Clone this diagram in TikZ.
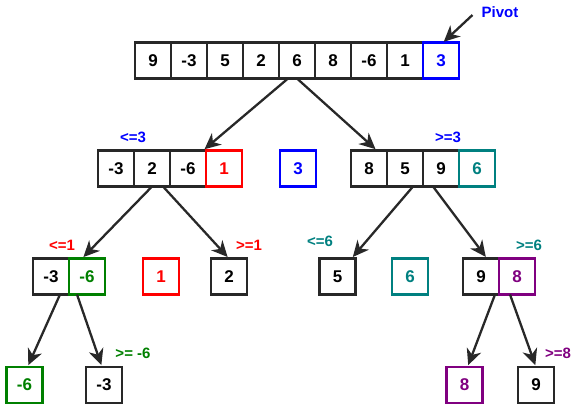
\documentclass[tikz,border=0pt]{standalone}
\usepackage{fontspec}
\setmainfont{Liberation Sans}
\usepackage{tikz}
\usetikzlibrary{arrows.meta, positioning}

\definecolor{qgreen}{RGB}{0,128,0}
\definecolor{qteal}{RGB}{0,128,128}
\definecolor{qpurple}{RGB}{128,0,128}
\definecolor{qgray}{RGB}{40,40,40}

\begin{document}
\begin{tikzpicture}[
  x=1pt, y=-1pt,
  cell/.style={rectangle, draw=qgray, line width=2.3pt, minimum size=36pt,
               inner sep=0pt, outer sep=0pt, fill=white,
               font=\fontsize{17}{19}\selectfont\bfseries},
  tag/.style={inner sep=0pt, font=\fontsize{15}{17}\selectfont\bfseries},
  arr/.style={-{Stealth[length=16pt, width=15pt, inset=5pt]}, qgray, line width=2.3pt,
              shorten >=2pt}
]
\useasboundingbox (0,0) rectangle (577,410);

% Input array, pivot is the last cell
\node[cell] (t1) at (153, 60.5) {9};
\node[cell] (t2) at (189, 60.5) {-3};
\node[cell] (t3) at (225, 60.5) {5};
\node[cell] (t4) at (261, 60.5) {2};
\node[cell] (t5) at (297, 60.5) {6};
\node[cell] (t6) at (333, 60.5) {8};
\node[cell] (t7) at (369, 60.5) {-6};
\node[cell] (t8) at (405, 60.5) {1};
\node[cell, draw=blue, text=blue] (t9) at (441, 60.5) {3};
\node[tag, text=blue] (pv) at (500, 12) {Pivot};

% First partition
\node[cell] (l1) at (116, 168.5) {-3};
\node[cell] (l2) at (152, 168.5) {2};
\node[cell] (l3) at (188, 168.5) {-6};
\node[cell, draw=red, text=red] (l4) at (224, 168.5) {1};
\node[cell, draw=blue, text=blue] (p1) at (298, 168.5) {3};
\node[cell] (r1) at (369, 168.5) {8};
\node[cell] (r2) at (405, 168.5) {5};
\node[cell] (r3) at (441, 168.5) {9};
\node[cell, draw=qteal, text=qteal] (r4) at (477, 168.5) {6};
\node[tag, text=blue] (c1) at (133, 137) {<=3};
\node[tag, text=blue] (c2) at (448, 137) {>=3};

% Second partition
\node[cell] (m1) at (51, 276.5) {-3};
\node[cell, draw=qgreen, text=qgreen] (m2) at (87, 276.5) {-6};
\node[cell, draw=red, text=red] (m3) at (161, 276.5) {1};
\node[cell] (m4) at (229, 276.5) {2};
\node[cell] (n1) at (337.5, 276.5) {5};
\node[cell, draw=qteal, text=qteal] (n2) at (410, 276.5) {6};
\node[cell] (n3) at (481, 276.5) {9};
\node[cell, draw=qpurple, text=qpurple] (n4) at (517, 276.5) {8};
\node[tag, text=red] (c3) at (62, 245) {<=1};
\node[tag, text=red] (c4) at (249, 245) {>=1};
\node[tag, text=qteal] (c5) at (320, 241) {<=6};
\node[tag, text=qteal] (c6) at (529, 245) {>=6};

% Third partition
\node[cell, draw=qgreen, text=qgreen] (b1) at (24.5, 385) {-6};
\node[cell] (b2) at (104, 385) {-3};
\node[cell, draw=qpurple, text=qpurple] (b3) at (464.5, 385) {8};
\node[cell] (b4) at (536, 385) {9};
\node[tag, text=qgreen] (c7) at (133, 353) {>= -6};
\node[tag, text=qpurple] (c8) at (558, 353) {>=8};

% Arrows
\draw[arr, shorten >=1pt] ([xshift=-9pt, yshift=-3pt]pv.west) -- ([xshift=2pt]t9.north);
\draw[arr] ([xshift=-9pt]t5.south) -- ([xshift=-3pt]l3.north east);
\draw[arr] (t5.south) -- ([xshift=8pt]r1.north);
\draw[arr] (l2.south) -- ([xshift=-5pt]m2.north);
\draw[arr] ([xshift=11pt]l2.south) -- (m4.north);
\draw[arr] ([xshift=8pt]r2.south) -- ([xshift=14pt]n1.north);
\draw[arr] ([xshift=-8pt]r3.south) -- ([xshift=6pt]n3.north);
\draw[arr] ([xshift=-9pt]m1.south east) -- ([xshift=3pt]b1.north);
\draw[arr] ([xshift=8pt]m2.south west) -- ([xshift=-2pt]b2.north);
\draw[arr] ([xshift=-4pt]n3.south east) -- ([xshift=3pt]b3.north);
\draw[arr] ([xshift=11pt]n4.south west) -- (b4.north);

\end{tikzpicture}
\end{document}
